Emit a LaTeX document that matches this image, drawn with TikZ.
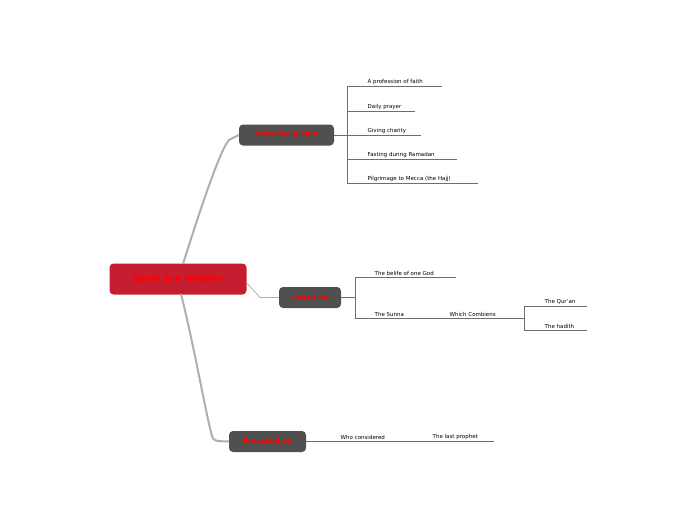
\documentclass[tikz,border=0pt]{standalone}
\usepackage{fontspec}
\setmainfont{DejaVu Sans}
\begin{document}
\begin{tikzpicture}[x=1pt,y=-1pt,
  main/.style={draw=none,fill={rgb,255:red,196;green,30;blue,48},rounded corners=4pt,minimum width=137pt,minimum height=31pt,text=red,font=\bfseries\itshape\fontsize{9}{10}\selectfont},
  sub/.style={fill={rgb,255:red,80;green,80;blue,80},rounded corners=4pt,minimum height=21pt,text=red,font=\bfseries\fontsize{7}{8}\selectfont,inner sep=0pt},
  leaf/.style={anchor=south west,font=\fontsize{5.5}{6}\selectfont,inner sep=1.5pt},
  br/.style={draw={rgb,255:red,175;green,175;blue,175},line width=1.2pt},
  ln/.style={draw={rgb,255:red,110;green,110;blue,110},line width=0.5pt}]
\useasboundingbox (0,0) rectangle (697,520);
\node[main] (root) at (178,279) {Islam is a religion};
\node[sub,minimum width=95pt] (p) at (286.5,135) {With five pillars};
\node[sub,minimum width=62pt,font=\bfseries\itshape\fontsize{7}{8}\selectfont] (b) at (310,297.5) {Based on};
\node[sub,minimum width=77pt] (r) at (267.5,441.5) {Preached by};
\draw[br,line width=2pt] (183,264) .. controls (200,210) and (220,150) .. (229,140) -- (p.west);
\draw[br,line width=0.8pt] (root.east) ++(0,4) -- (260,297.5) -- (b.west);
\draw[br,line width=2pt] (181,294) .. controls (195,350) and (205,410) .. (212,436) .. controls (214,441) .. (229,441.5) -- (r.west);
% pillars
\coordinate (pv) at (347,135);
\draw[ln,line width=1pt] (p.east) -- (pv);
\draw[ln] (347,86) -- (347,183);
\foreach \y/\e/\t [count=\i] in {86/442/A profession of faith,111/415/Daily prayer,135/421/Giving charity,159/457/Fasting during Ramadan,183/478/Pilgrimage to Mecca (the Hajj)}{
  \node[leaf] (pl\i) at (366,\y) {\t};
  \draw[ln] (347,\y) -- (\e,\y);
}
% based on
\draw[ln,line width=1pt] (b.east) -- (355,297.5);
\draw[ln] (355,277) -- (355,318);
\node[leaf] (b1) at (373,277) {The belife of one God};
\draw[ln] (355,277) -- (456,277);
\node[leaf] (b2) at (373,318) {The Sunna};
\node[leaf] (b3) at (448,318) {Which Combiens};
\draw[ln] (355,318) -- (524,318);
\draw[ln] (524,306) -- (524,330);
\node[leaf] (b4) at (543,306) {The Qur'an};
\node[leaf] (b5) at (543,330) {The hadith};
\draw[ln] (524,306) -- (587,306);
\draw[ln] (524,330) -- (587,330);
% preached
\draw[br,line width=0.8pt] (r.east) -- (320,441.5);
\draw[ln] (306,441.5) -- (494,441.5);
\node[leaf] (r1) at (339,441.5) {Who considered};
\node[leaf] (r2) at (431,441.5) {The last prophet};
\end{tikzpicture}
\end{document}
